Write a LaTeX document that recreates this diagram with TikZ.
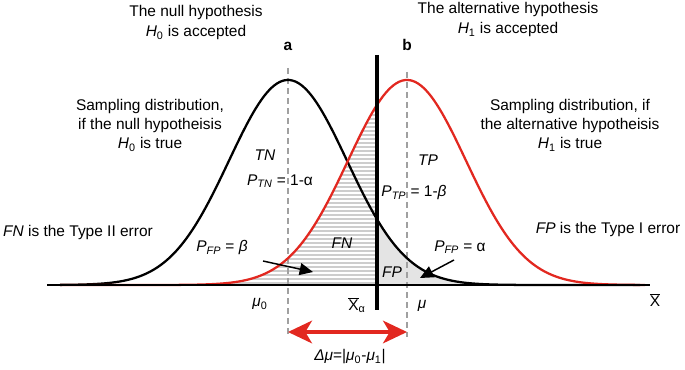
\documentclass[tikz,border=0pt]{standalone}
\usepackage{fontspec}
\setmainfont{Liberation Sans}
\usetikzlibrary{arrows.meta, positioning}

\definecolor{altred}{RGB}{226,40,32}
\definecolor{guidegray}{RGB}{160,160,160}
\definecolor{stripegray}{RGB}{205,205,205}
\definecolor{fpgray}{RGB}{228,228,228}

% density curves, in pixel units (y grows downwards)
\newcommand{\nullpdf}[1]{285-205*exp(-0.5*((#1-288)/59)^2)}
\newcommand{\altpdf}[1]{285-205*exp(-0.5*((#1-407)/59)^2)}
\newcommand{\subit}[1]{\textsubscript{\textit{#1}}}

\begin{document}
\begin{tikzpicture}[
  x=0.75pt, y=-0.75pt,
  lbl/.style      = {inner sep=0pt, align=center, font=\fontsize{11.6}{14.5}\selectfont},
  title/.style    = {lbl, font=\fontsize{11.6}{15}\selectfont},
  curve/.style    = {line width=1.7pt, line join=round},
  guide/.style    = {guidegray, line width=0.8pt, dash pattern=on 4.5pt off 3pt},
  stripe/.style   = {stripegray, line width=1.4pt},
  ptarrow/.style  = {-{Triangle[length=10pt, width=9pt]}, line width=1.1pt},
  diffarrow/.style= {{Stealth[length=18pt, width=17pt, inset=5pt]}-{Stealth[length=18pt, width=17pt, inset=5pt]},
                     altred, line width=2.3pt}
]
\useasboundingbox (0,0) rectangle (685,370);

% ── Shaded areas ─────────────────────────────────────────────────────────────
\fill[fpgray] (377,285) -- plot[domain=377:600, samples=80] (\x, {\nullpdf{\x}}) -- (600,285) -- cycle;

\begin{scope}
  \clip (180,285) -- plot[domain=180:377, samples=80] (\x, {\altpdf{\x}}) -- (377,285) -- cycle;
  \foreach \yy in {283,279,...,95}
    \draw[stripe] (180,\yy) -- (377,\yy);
\end{scope}

% ── Guide lines through the means ────────────────────────────────────────────
\coordinate (atop) at (288,68);
\coordinate (abot) at (288,337);
\coordinate (btop) at (407,72);
\coordinate (bbot) at (407,337);
\draw[guide] (atop) -- (abot);
\draw[guide] (btop) -- (bbot);

% ── Sampling distributions ───────────────────────────────────────────────────
\draw[curve, black] plot[domain=60:640, samples=220] (\x, {\nullpdf{\x}});
\draw[curve, altred] plot[domain=60:645, samples=220] (\x, {\altpdf{\x}});

% ── Axis and critical value ──────────────────────────────────────────────────
\coordinate (axl) at (47,285);
\coordinate (axr) at (650,285);
\draw[line width=1.4pt] (axl) -- (axr);

\coordinate (crtop) at (377,55);
\coordinate (crbot) at (377,310);
\draw[line width=2.4pt] (crtop) -- (crbot);

% ── Headings ─────────────────────────────────────────────────────────────────
\node[title] (nulltitle) at (196,23) {The null hypothesis\\\textit{H}\textsubscript{0} is accepted};
\node[title] (alttitle) at (508,20) {The alternative hypothesis\\\textit{H}\textsubscript{1} is accepted};
\node[lbl, font=\fontsize{11.6}{14}\selectfont\bfseries, anchor=base, above=13pt of atop] (lbla) {a};
\node[lbl, font=\fontsize{11.6}{14}\selectfont\bfseries, anchor=base, above=16pt of btop] (lblb) {b};

\node[lbl] (nulldist) at (150,125) {Sampling distribution,\\if the null hypotheisis\\\textit{H}\textsubscript{0} is true};
\node[lbl] (altdist) at (570,125) {Sampling distribution, if\\the alternative hypotheisis\\\textit{H}\textsubscript{1} is true};

% ── Region labels ────────────────────────────────────────────────────────────
\node[lbl] (tn) at (265,155) {\textit{TN}};
\node[lbl] (ptn) at (280,181) {\textit{P}\subit{TN} = 1-α};
\node[lbl] (tp) at (428,160) {\textit{TP}};
\node[lbl] (ptp) at (414,193) {\textit{P}\subit{TP} = 1-\textit{β}};
\node[lbl] (fn) at (342,243) {\textit{FN}};
\node[lbl] (fp) at (392,272) {\textit{FP}};

\node[lbl] (pbeta) at (222,248) {\textit{P}\subit{FP} = \textit{β}};
\node[lbl] (palpha) at (460,247) {\textit{P}\subit{FP} = α};
\coordinate (btail) at (263,261);
\coordinate (bhead) at (313,272);
\coordinate (atail) at (454,260);
\coordinate (ahead) at (420,278);
\draw[ptarrow] (btail) -- (bhead);
\draw[ptarrow] (atail) -- (ahead);

\node[lbl] (typetwo) at (78,233) {\textit{FN} is the Type II error};
\node[lbl] (typeone) at (608,230) {\textit{FP} is the Type I error};

% ── Axis labels ──────────────────────────────────────────────────────────────
\node[lbl] (mu0) at (260,304) {\textit{μ}\textsubscript{0}};
\node[lbl] (xalpha) at (357,305) {$\overline{\mbox{X}}$\textsubscript{α}};
\node[lbl] (mu1) at (422,306) {\textit{μ}};
\node[lbl] (xbar) at (655,300) {$\overline{\mbox{X}}$};

% ── Distance between the means ───────────────────────────────────────────────
\coordinate (dleft) at (288,332);
\coordinate (dright) at (407,332);
\draw[diffarrow] (dleft) -- (dright);
\node[lbl] (dmu) at (350,357) {\textit{Δμ}=|\textit{μ}\textsubscript{0}-\textit{μ}\textsubscript{1}|};

\end{tikzpicture}
\end{document}
